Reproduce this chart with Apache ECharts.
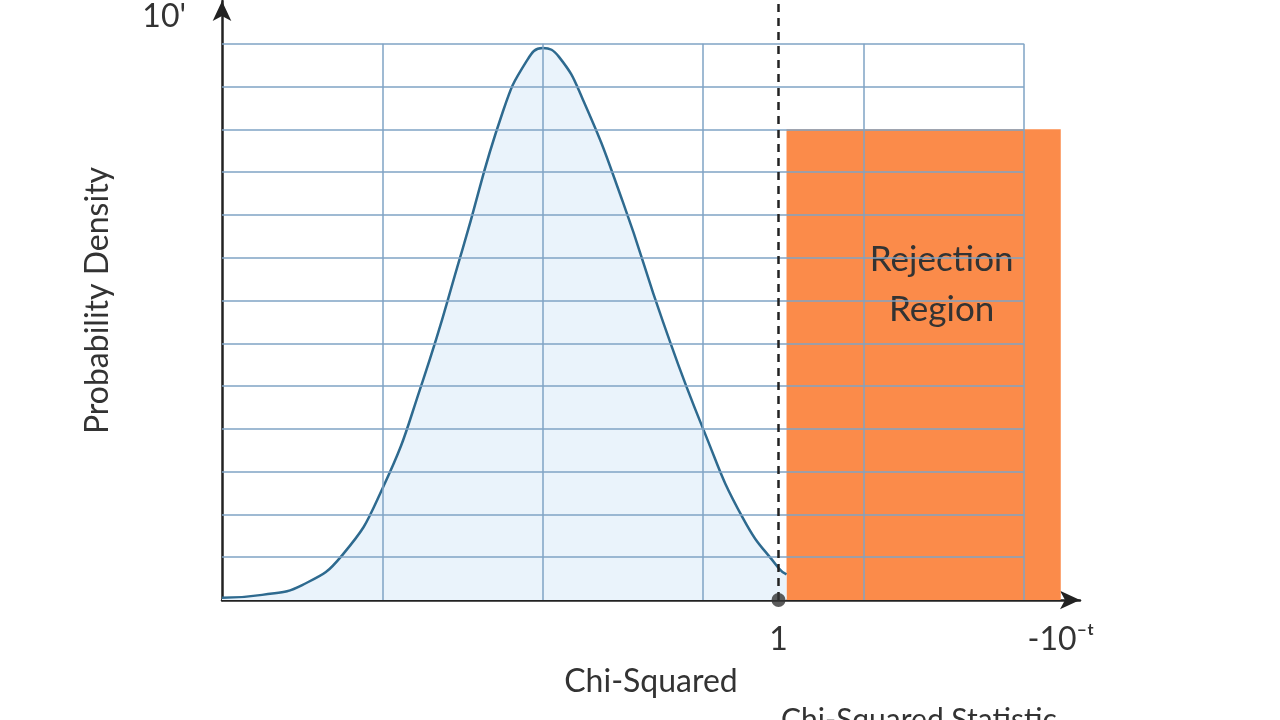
<!DOCTYPE html>
<html>
<head>
<meta charset="utf-8">
<script src="https://cdn.jsdelivr.net/npm/echarts@6/dist/echarts.min.js"></script>
<style>html,body{margin:0;background:#fff}#c{width:1280px;height:720px}</style>
</head>
<body>
<div id="c"></div>
<script>
// density curve (x in grid units, y in grid units)
var curveX = [0, 0.25, 0.5, 0.75, 1.0, 1.25, 1.5, 1.75, 1.9, 2.0, 2.1, 2.25, 2.5, 2.75, 3.0, 3.25, 3.47, 3.52];
var curveY = [0.05, 0.12, 0.35, 1.05, 2.6, 5.1, 8.2, 11.4, 12.6, 12.9, 12.7, 11.7, 9.3, 6.5, 4.0, 1.9, 0.75, 0.6];
var criticalX = 3.47;
var rejectStart = 3.52, rejectEnd = 5.23, rejectTop = 11;
var xTickValues = [3.47, 5.23];
var xTickLabels = ['1', '-10\u207B\u1D57'];
var hGrid = [1, 2, 3, 4, 5, 6, 7, 8, 9, 10, 11, 12, 13];
var vGrid = [1, 2, 3, 4, 5];

var chart = echarts.init(document.getElementById('c'));
var font = 'Lato, "Open Sans", sans-serif';

var gridLines = [];
hGrid.forEach(function (v) { gridLines.push([{ coord: [0, v] }, { coord: [5, v] }]); });
vGrid.forEach(function (v) { gridLines.push([{ coord: [v, 0] }, { coord: [v, 13] }]); });

var pts = curveX.map(function (x, i) { return [x, curveY[i]]; });

chart.setOption({
	animation: false,
	grid: { left: 222, right: 200, top: 1, bottom: 120 },
	title: {
		text: 'Chi-Squared Statistic', left: 776, top: 700,
		textStyle: { fontFamily: font, fontWeight: 'normal', fontSize: 30, color: '#333' }
	},
	xAxis: {
		type: 'value', min: 0, max: 5.35,
		name: 'Chi-Squared', nameLocation: 'middle', nameGap: 66,
		nameTextStyle: { fontFamily: font, fontSize: 32, color: '#333' },
		axisLine: { lineStyle: { color: '#222', width: 2.5 }, symbol: ['none', 'arrow'], symbolSize: [14, 20] },
		axisTick: { show: false },
		splitLine: { show: false },
		axisLabel: {
			customValues: xTickValues, margin: 24, fontFamily: font, fontSize: 32, color: '#333',
			formatter: function (v) { return xTickLabels[xTickValues.indexOf(v)]; }
		}
	},
	yAxis: {
		type: 'value', min: 0, max: 14, interval: 1,
		name: 'Probability Density', nameLocation: 'middle', nameGap: 108, nameRotate: 90,
		nameTextStyle: { fontFamily: font, fontSize: 32, color: '#333' },
		axisLine: { show: true, lineStyle: { color: '#222', width: 2.5 }, symbol: ['none', 'arrow'], symbolSize: [14, 20] },
		axisTick: { show: false },
		splitLine: { show: false },
		axisLabel: {
			customValues: [14], margin: 36, fontFamily: font, fontSize: 32, color: '#333',
			verticalAlign: 'top', formatter: function () { return "10'"; }
		}
	},
	series: [{
		type: 'line', data: pts, smooth: 0.5, showSymbol: false,
		lineStyle: { color: '#2e6a8f', width: 2.5 },
		areaStyle: { color: '#eaf3fb', opacity: 1 },
		z: 2,
		markLine: {
			silent: true, symbol: 'none', label: { show: false },
			lineStyle: { color: '#7fa3c4', width: 1.5, type: 'solid' },
			data: gridLines
		}
	}, {
		type: 'line', data: [], z: 4,
		markArea: {
			silent: true,
			itemStyle: { color: '#fb8b4a' },
			label: {
				show: true, position: 'insideTop', distance: 105, offset: [18, 0],
				formatter: 'Rejection\nRegion', fontFamily: font, fontSize: 35, lineHeight: 50, color: '#333'
			},
			data: [[{ coord: [rejectStart, 0] }, { coord: [rejectEnd, rejectTop] }]]
		}
	}, {
		type: 'line', data: [[criticalX, 0], [criticalX, 14]], showSymbol: false,
		lineStyle: { color: '#222', width: 2.5, type: [8, 6] }, z: 5
	}, {
		type: 'scatter', data: [[criticalX, 0]], symbolSize: 14,
		itemStyle: { color: '#333' }, z: 6
	}]
});
</script>
</body>
</html>
